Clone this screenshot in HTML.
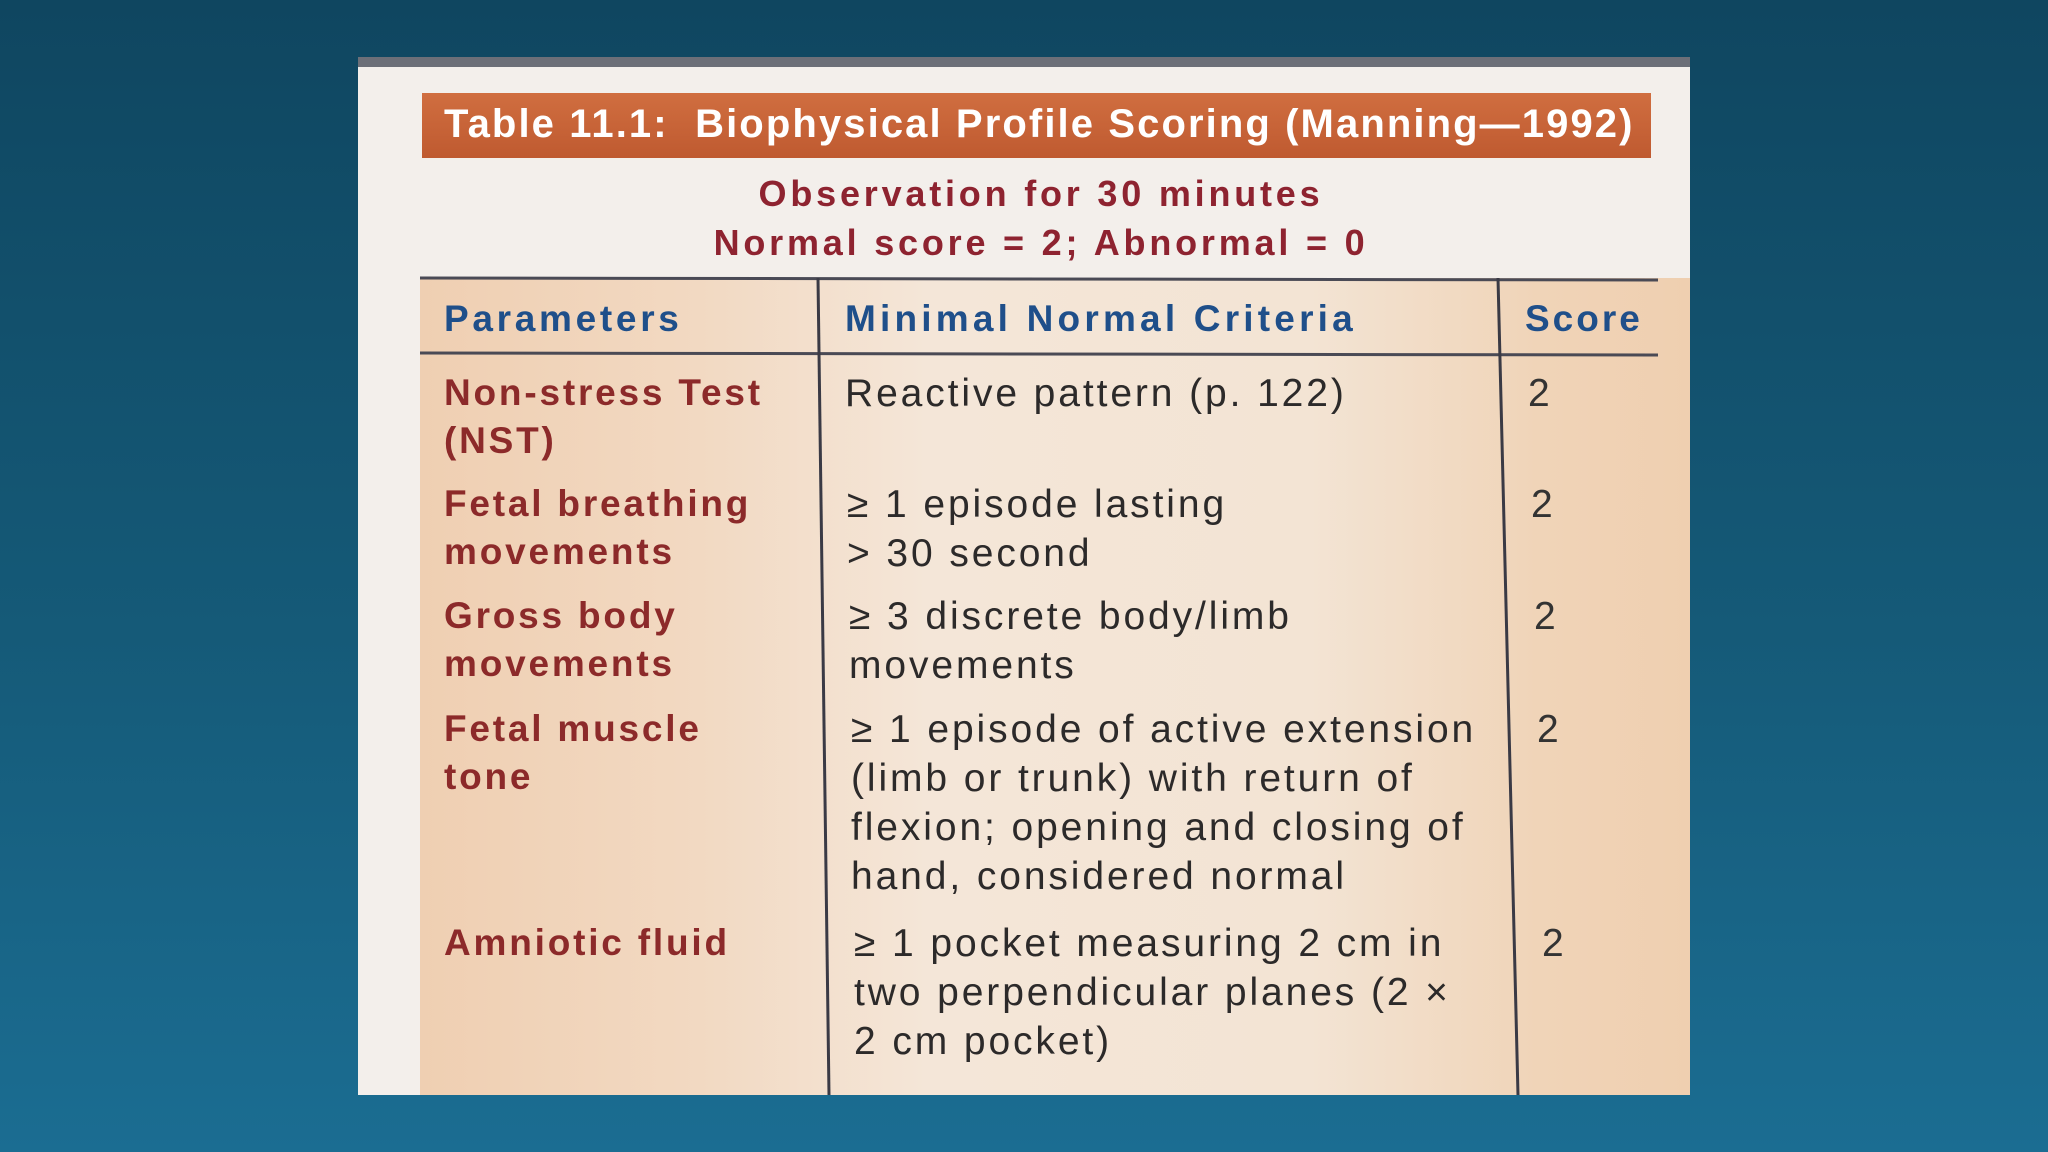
<!DOCTYPE html>
<html><head><meta charset="utf-8"><style>
html,body{margin:0;padding:0}
body{width:2048px;height:1152px;overflow:hidden;position:relative;background:linear-gradient(180deg,#0f4660 0%,#155a78 55%,#1b6d92 100%);font-family:"Liberation Sans",sans-serif}
#photo{position:absolute;left:358px;top:57px;width:1332px;height:1038px;background:#f3efeb;overflow:hidden}
#strip{position:absolute;left:0;top:0;width:1332px;height:10px;background:#6c6f78}
#body-bg{position:absolute;left:62px;top:221px;width:1270px;height:817px;background:linear-gradient(90deg,#efcfb2 0%,#f2d9c2 22%,#f4e6d8 40%,#f3e4d4 70%,#f0d4b8 88%,#efcfb0 100%)}
#title{position:absolute;left:64px;top:36px;width:1229px;height:65px;background:linear-gradient(180deg,#d06e40,#bf5a30);color:#fff;font-weight:bold;font-size:40px;line-height:62px;text-indent:22px;white-space:nowrap;letter-spacing:2.1px}
.sub{position:absolute;left:0;width:1366px;text-align:center;color:#8e2330;font-weight:bold;font-size:36px;letter-spacing:3.8px}
.hdr{position:absolute;top:240px;color:#1f4f8a;font-weight:bold;font-size:37px;line-height:44px}
.p{position:absolute;color:#8c2a2a;font-weight:bold;font-size:37px;line-height:48px;letter-spacing:2.8px}
.c{position:absolute;color:#2c2a2a;font-size:39px;line-height:49px;white-space:nowrap;letter-spacing:2.9px}
.s{position:absolute;color:#333;font-size:39px;line-height:49px}
svg{position:absolute;left:0;top:0}
</style></head><body>
<div id="photo">
<div id="strip"></div>
<div id="body-bg"></div>
<div id="title">Table 11.1:&nbsp; Biophysical Profile Scoring (Manning—1992)</div>
<div class="sub" style="top:116px">Observation for 30 minutes</div>
<div class="sub" style="top:165px">Normal score = 2; Abnormal = 0</div>
<svg width="1332" height="1038">
<line x1="62" y1="221" x2="1300" y2="223" stroke="#4a4a55" stroke-width="3"/>
<line x1="62" y1="296" x2="1300" y2="298" stroke="#4a4a55" stroke-width="3"/>
<line x1="460" y1="221" x2="471" y2="1038" stroke="#3a3a45" stroke-width="3"/>
<line x1="1140" y1="221" x2="1160" y2="1038" stroke="#3a3a45" stroke-width="3"/>
</svg>
<div class="hdr" style="left:86px;letter-spacing:3.7px">Parameters</div>
<div class="hdr" style="left:487px;letter-spacing:4.2px">Minimal Normal Criteria</div>
<div class="hdr" style="left:1167px;letter-spacing:3px">Score</div>

<div class="p" style="left:86px;top:312px">Non-stress Test<br>(NST)</div>
<div class="c" style="left:487px;top:312px">Reactive pattern (p. 122)</div>
<div class="s" style="left:1170px;top:312px">2</div>

<div class="p" style="left:86px;top:423px">Fetal breathing<br>movements</div>
<div class="c" style="left:489px;top:423px">≥ 1 episode lasting<br>&gt; 30 second</div>
<div class="s" style="left:1173px;top:423px">2</div>

<div class="p" style="left:86px;top:535px">Gross body<br>movements</div>
<div class="c" style="left:491px;top:535px">≥ 3 discrete body/limb<br>movements</div>
<div class="s" style="left:1176px;top:535px">2</div>

<div class="p" style="left:86px;top:648px">Fetal muscle<br>tone</div>
<div class="c" style="left:493px;top:648px">≥ 1 episode of active extension<br>(limb or trunk) with return of<br>flexion; opening and closing of<br>hand, considered normal</div>
<div class="s" style="left:1179px;top:648px">2</div>

<div class="p" style="left:86px;top:862px">Amniotic fluid</div>
<div class="c" style="left:496px;top:862px">≥ 1 pocket measuring 2 cm in<br>two perpendicular planes (2 ×<br>2 cm pocket)</div>
<div class="s" style="left:1184px;top:862px">2</div>
</div>
</body></html>
